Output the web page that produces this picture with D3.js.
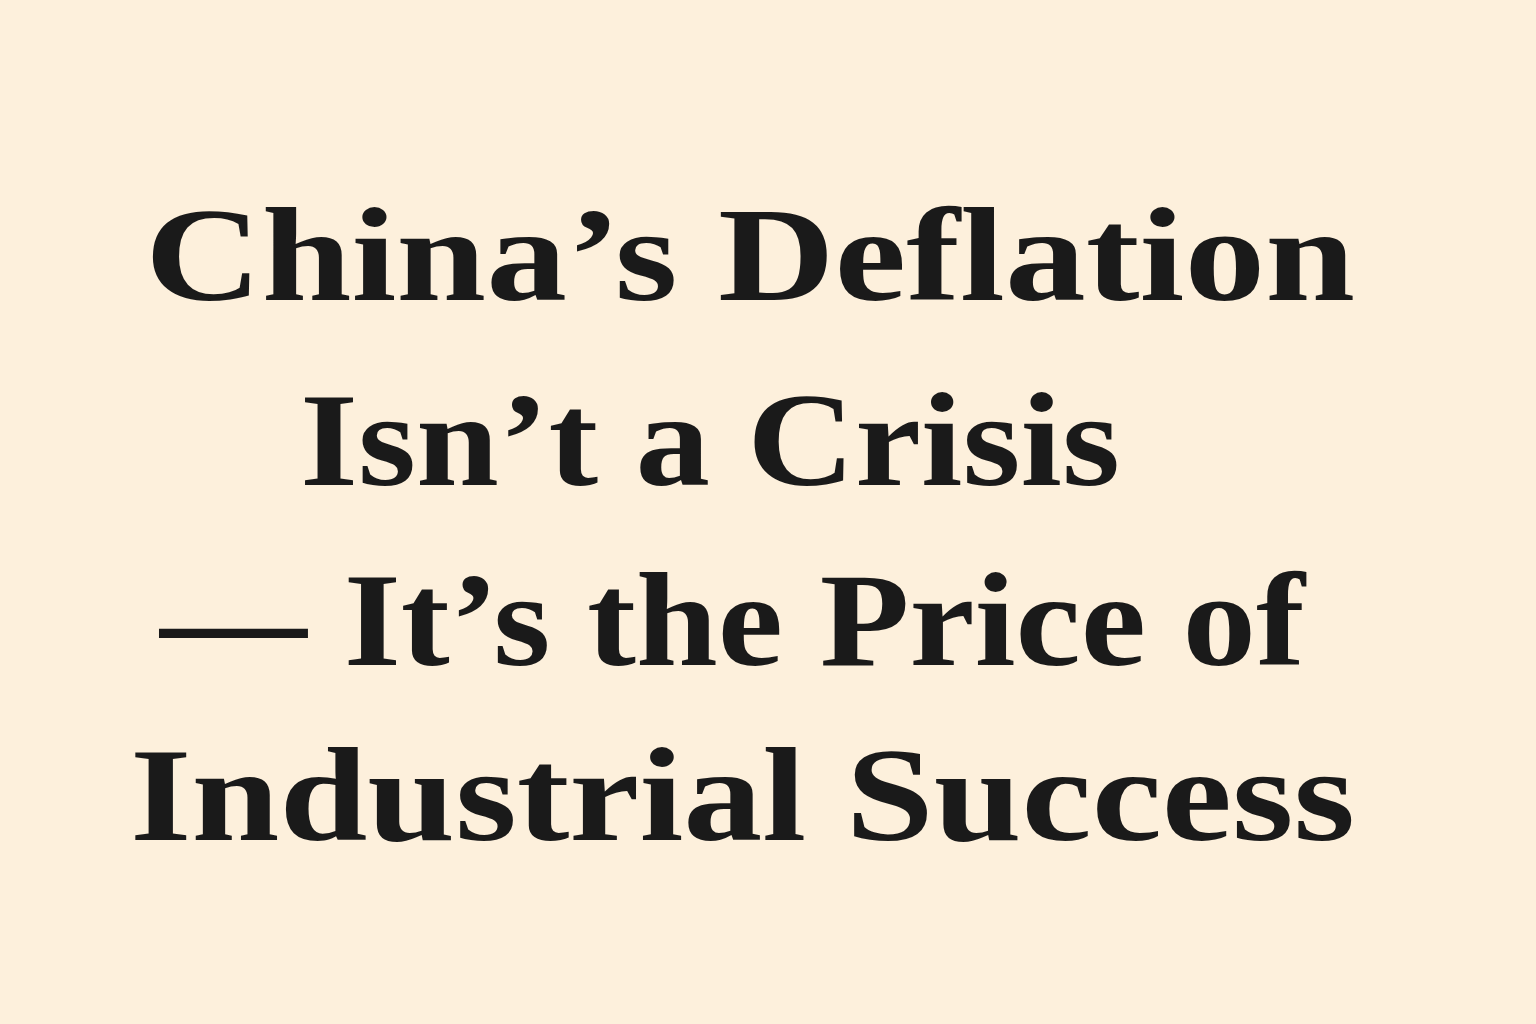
<!DOCTYPE html>
<html><head><meta charset="utf-8">
<script src="https://cdn.jsdelivr.net/npm/d3@7"></script>
<style>html,body{margin:0;padding:0;background:#fdf0dc;}</style>
</head><body>
<script>
const titleLines = ["China’s Deflation", "Isn’t a Crisis", "— It’s the Price of", "Industrial Success"];
const lineStarts = [145, 300, 160, 130];
const lineEnds = [1355, 1120, 1305, 1355];
const lineBaselines = [300, 485, 665, 840];

const svg = d3.select("body").append("svg").attr("width", 1536).attr("height", 1024);
svg.append("rect").attr("width", 1536).attr("height", 1024).attr("fill", "#fdf0dc");
svg.selectAll("text.t").data(titleLines).join("text")
  .attr("class", "t")
  .attr("x", (d, i) => lineStarts[i])
  .attr("y", (d, i) => lineBaselines[i])
  .attr("textLength", (d, i) => lineEnds[i] - lineStarts[i])
  .attr("lengthAdjust", "spacingAndGlyphs")
  .attr("font-family", "'Liberation Serif', 'DejaVu Serif', serif")
  .attr("font-weight", "bold")
  .attr("font-size", 134)
  .attr("fill", "#1a1a1a")
  .text(d => d);
</script>
</body></html>
